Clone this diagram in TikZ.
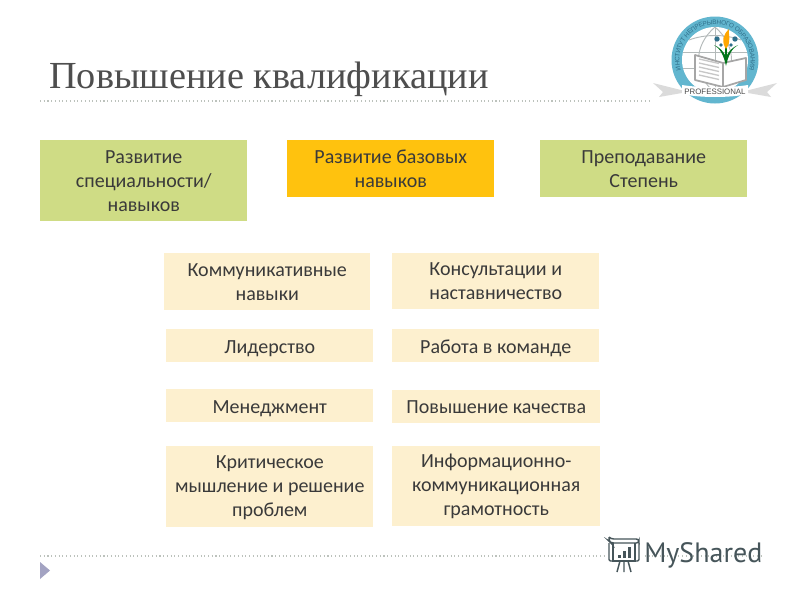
\documentclass[tikz,border=0pt]{standalone}
\usepackage{fontspec}
\usetikzlibrary{decorations.text}
\setmainfont{Carlito}
\newfontfamily\titlefont{Liberation Serif}
\newfontfamily\markfont{PT Sans}
\newfontfamily\ringfont{Liberation Sans}
\definecolor{grn}{HTML}{CFDC85}
\definecolor{org}{HTML}{FFC20E}
\definecolor{crm}{HTML}{FDF0CF}
\definecolor{txt}{HTML}{3A3A3A}
\definecolor{dotc}{HTML}{BCC2BC}
\definecolor{ringc}{HTML}{62B6CF}
\definecolor{ringd}{HTML}{2F6F8A}
\definecolor{globec}{HTML}{B4BABA}
\definecolor{markc}{HTML}{46555A}
\tikzset{
 bx/.style={anchor=north west,inner sep=0pt,align=center,text=txt,font=\fontsize{15pt}{18pt}\selectfont},
 dotrule/.style={dotc,dotted,line width=0.8pt},
 px/.style={x=0.75pt,y=-0.75pt},
 logoline/.style={globec,line width=0.7pt},
 bookline/.style={black!35,line width=1.3pt,line join=round},
 iconline/.style={markc,line width=1.1pt}
}
\newcommand{\bxx}[7]{\node[bx,fill=#5,minimum width=#3*0.75pt,minimum height=#4*0.75pt] (#6) at (#1,#2) {#7};}
\newcommand{\dn}{\rule{0pt}{13.5pt}}
\newcommand{\dnn}{\rule{0pt}{11.7pt}}
\begin{document}
\begin{tikzpicture}[px]
\useasboundingbox (0,0) rectangle (800,600);
\fill[white] (0,0) rectangle (800,600);
\node[anchor=west,inner sep=0pt,text=txt!90] (title) at (49,79) {\titlefont\fontsize{28.7pt}{32pt}\selectfont Повышение квалификации};
\coordinate (r1a) at (40,101); \coordinate (r1b) at (650,101);
\draw[dotrule] (r1a) -- (r1b);
\coordinate (r2a) at (40,556); \coordinate (r2b) at (762,556);
\draw[dotrule] (r2a) -- (r2b);
\bxx{40}{140}{207}{81}{grn}{a1}{Развитие\\специальности/\\навыков}
\bxx{287}{140}{207}{57}{org}{a2}{Развитие базовых\\навыков}
\bxx{540}{140}{207}{57}{grn}{a3}{Преподавание\\Степень}
\bxx{164}{253}{206}{57}{crm}{b1}{Коммуникативные\\навыки}
\bxx{392}{253}{207}{56}{crm}{c1}{Консультации и\\наставничество}
\bxx{166}{329}{207}{33}{crm}{b2}{\dn Лидерство}
\bxx{392}{329}{207}{33}{crm}{c2}{\dn Работа в команде}
\bxx{166}{389}{207}{33}{crm}{b3}{\dn Менеджмент}
\bxx{392}{390}{208}{33}{crm}{c3}{Повышение качества}
\bxx{166}{446}{207}{81}{crm}{b4}{\dnn Критическое\\мышление и решение\\проблем}
\bxx{392}{446}{208}{80}{crm}{c4}{Информационно-\\коммуникационная\\грамотность}
\fill[fill=blue!20!gray!60] (40,562) -- (50,570.5) -- (40,579) -- cycle;
% logo
\begin{scope}[shift={(715,60)},x=0.75pt,y=0.75pt]
 \fill[ringc] (0,0) circle (43.5);
 \fill[white] (0,0) circle (33);
 \draw[logoline] (0,33) .. controls (-22,14) and (-22,-14) .. (0,-33);
 \draw[logoline] (0,33) .. controls (22,14) and (22,-14) .. (0,-33);
 \draw[logoline] (0,-33) -- (0,33);
 \draw[logoline] (-32,8) -- (32,8);
 \draw[logoline] (-32,-8) -- (32,-8);
 \draw[logoline] (-26,20) .. controls (-10,26) and (10,26) .. (26,20);
 % book
 \fill[white] (-20,5) -- (-20,-20) -- (8,-27) -- (31,-20) -- (31,2) -- (8,-3) -- cycle;
 \draw[bookline] (-20,5) -- (-20,-20) -- (8,-27) -- (8,-3) -- cycle;
 \draw[bookline] (8,-3) -- (31,2) -- (31,-20) -- (8,-27);
 \foreach \h in {1,-3,-7,-11,-15} \draw[black!22,line width=1pt] (-16,\h) -- (4,\h-4.5);
 % figures
 \fill[green!45!black!80!teal] (11,-6) .. controls (9,4) and (5,12) .. (-1,15) .. controls (4,13) and (8,9) .. (10,5) -- (10.5,22) -- (11.5,22) -- (12,5) .. controls (14,9) and (18,13) .. (23,15) .. controls (17,12) and (13,4) .. (11,-6) -- cycle;
 \fill[orange!70!yellow] (11,11) .. controls (6,19) and (8,25) .. (14,31) .. controls (13,25) and (17,19) .. (11,11) -- cycle;
 \fill[ringd] (2,21) circle (2.7) (20,21) circle (2.7) (6,15) circle (1.8) (16,15) circle (1.8);
 % ribbon
 \fill[black!14] (-62,-23) -- (-34,-30) -- (34,-30) -- (62,-23) -- (52,-32) -- (56,-37) -- (33,-33) -- (-33,-33) -- (-56,-37) -- (-52,-32) -- cycle;
 \fill[white] (-33,-25) .. controls (-15,-28) and (15,-28) .. (33,-25) -- (33,-34) .. controls (15,-38) and (-15,-38) .. (-33,-34) -- cycle;
 \node[inner sep=0pt,text=black!70] (pro) at (0,-32) {\ringfont\fontsize{5.9pt}{7pt}\selectfont PROFESSIONAL};
 \path[postaction={decorate,decoration={text along path,text align=center,raise=-1.8pt,
   text={|\ringfont\fontsize{4.8pt}{6pt}\selectfont\color{ringd}|ИНСТИТУТ НЕПРЕРЫВНОГО ОБРАЗОВАНИЯ}}}]
   (218:38) arc (218:-38:38);
\end{scope}
% MyShared
\node[anchor=west,inner sep=0pt,text=markc] (myshared) at (644,555) {\markfont\fontsize{21pt}{24pt}\selectfont MyShared};
\fill[white] (606,536) rectangle (642,574);
\coordinate (ic) at (624,552);
\begin{scope}[shift={(ic)},x=0.75pt,y=0.75pt]
 \draw[iconline,rounded corners=1pt] (-15,9) -- (-15,-9) -- (15,-9) -- (15,9);
 \draw[iconline,rounded corners=2pt] (-15,15) -- (-13,13) -- (15,13) -- (15,9) -- (-13,9) -- (-15,11) -- (-15,15);
 \draw[iconline] (-11,9) -- (-11,-9) -- (11,-9) -- (11,9);
 \fill[markc] (-6,-6) rectangle (-3,-3);
 \fill[markc] (-1,-6) rectangle (2,1);
 \fill[markc] (4,-6) rectangle (7,5);
 \draw[iconline] (-4,-9) -- (-7,-20) (0,-9) -- (0,-20) (4,-9) -- (7,-20);
\end{scope}
\end{tikzpicture}
\end{document}
